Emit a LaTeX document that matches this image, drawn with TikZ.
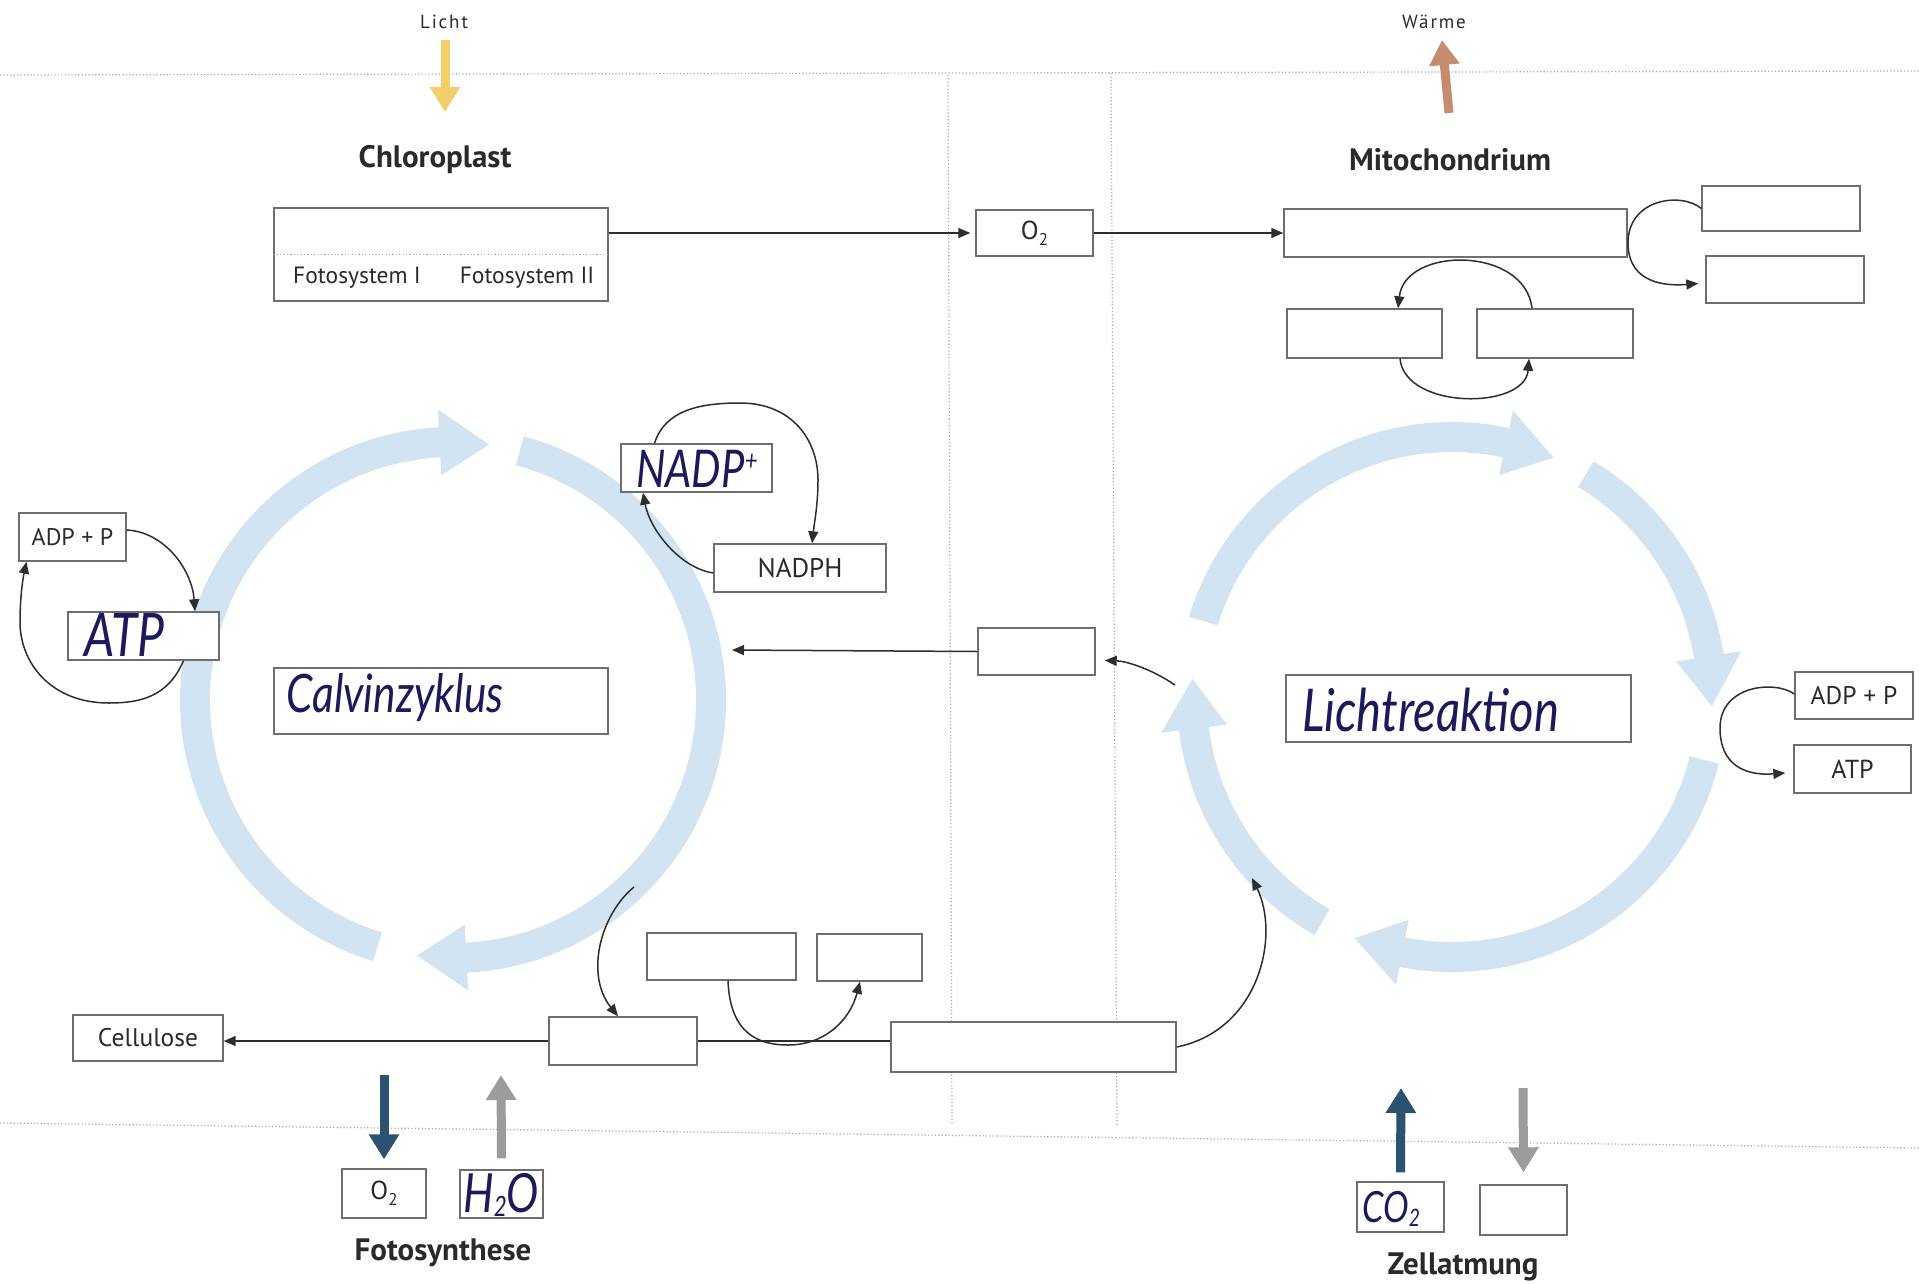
\documentclass[tikz,border=0pt]{standalone}
\usepackage{fontspec}
\setmainfont{PT Sans}
\newfontfamily\hand{Lato}[FakeStretch=0.8]
\usetikzlibrary{arrows.meta}
\definecolor{ringblue}{HTML}{D2E4F1}
\definecolor{boxc}{HTML}{6E6E6E}
\definecolor{connc}{HTML}{2E2E2E}
\definecolor{textc}{HTML}{2A2A2A}
\definecolor{handc}{HTML}{1C1A5C}
\definecolor{yellowc}{HTML}{F3CF6A}
\definecolor{brownc}{HTML}{C68B70}
\definecolor{darkc}{HTML}{2D5170}
\definecolor{grayc}{HTML}{9C9C9C}
\definecolor{dotc}{HTML}{A8A8A8}
\newcommand\ringseg[4]{%
 \fill[ringblue] ({#1}:{#3-15}) arc[start angle={#1}, end angle={#2+#4}, radius={#3-15}]
   -- ({#2+#4}:{#3-33}) -- ({#2}:{#3}) -- ({#2+#4}:{#3+33}) -- ({#2+#4}:{#3+15})
   arc[start angle={#2+#4}, end angle={#1}, radius={#3+15}] -- cycle;}
\begin{document}
\begin{tikzpicture}[x=1pt,y=-1pt,
  box/.style={draw=boxc, line width=1.4pt, fill=white, inner sep=0pt, font=\fontsize{26}{30}\selectfont, text=textc},
  conn/.style={draw=connc, line width=1.5pt, -{Triangle[length=12pt,width=10pt]}},
  plainln/.style={draw=connc, line width=1.5pt},
  fat/.style={line width=9pt, -{Triangle[length=25pt,width=29pt]}},
  ttl/.style={font=\bfseries\fontsize{31}{36}\selectfont, text=textc},
  lblsmall/.style={font=\fontsize{19}{22}\selectfont\addfontfeature{LetterSpace=10}, text=textc},
  lbltext/.style={font=\fontsize{23.5}{28}\selectfont, text=textc},
  hw/.style={font=\hand\itshape\fontsize{52}{58}\selectfont, text=handc, inner sep=0pt, anchor=base west},
  dotline/.style={draw=dotc, line width=1.2pt, dash pattern=on 1.2pt off 2.2pt}
]
\fill[white] (0,0) rectangle (1919,1283);
\useasboundingbox (0,0) rectangle (1919,1283);

% dotted frame lines
\draw[dotline] (0,75) -- (1919,71);
\draw[dotline] (0,1123) -- (1919,1148);
\draw[dotline] (948,75) -- (952,1125);
\draw[dotline] (1111,73) -- (1117,1127);

% cycles
\begin{scope}[shift={(453,700)}, yscale=-1]
 \ringseg{253}{82}{258}{11}
 \ringseg{75}{-98}{258}{11}
\end{scope}
\begin{scope}[shift={(1452,697)}, yscale=-1]
 \ringseg{240}{176}{260}{11}
 \ringseg{163}{67}{260}{11}
 \ringseg{59}{-2}{260}{11}
 \ringseg{-14}{-112}{260}{11}
\end{scope}
\coordinate (calvR) at (732,650);
\coordinate (calvBR) at (634,887);
\coordinate (lichtRing) at (1175,685);
\coordinate (lichtBL) at (1252,878);

% labels
\node[lblsmall] (licht) at (444,22) {Licht};
\node[lblsmall] (waerme) at (1434,22) {Wärme};
\node[ttl] (chlt) at (435,160) {Chloroplast};
\node[ttl] (mitot) at (1450,160) {Mitochondrium};
\node[ttl] (fots) at (443,1253) {Fotosynthese};
\node[ttl] (zell) at (1463,1267) {Zellatmung};

% boxes
\node[box, minimum width=334pt, minimum height=93pt] (chl) at (441,254.5) {};
\draw[dotline] (chl.west) -- (chl.east);
\node[lbltext] (fs1) at (357,278) {Fotosystem I};
\node[lbltext] (fs2) at (527,278) {Fotosystem II};
\node[box, minimum width=117pt, minimum height=46pt] (o2top) at (1034.5,233) {O\raisebox{-6pt}{\fontsize{17}{17}\selectfont 2}};
\node[box, minimum width=343pt, minimum height=48pt] (mito) at (1455.5,233) {};
\node[box, minimum width=158pt, minimum height=45pt] (mr1) at (1781,208.5) {};
\node[box, minimum width=158pt, minimum height=47pt] (mr2) at (1785,279.5) {};
\node[box, minimum width=155pt, minimum height=49pt] (ml) at (1364.5,333.5) {};
\node[box, minimum width=156pt, minimum height=49pt] (mrr) at (1555,333.5) {};
\node[box, minimum width=107pt, minimum height=48pt, font=\fontsize{24}{28}\selectfont] (adpL) at (72.5,537) {ADP + P};
\node[box, minimum width=151pt, minimum height=48pt] (atpL) at (143.5,636) {};
\node[box, minimum width=151pt, minimum height=48pt] (nadp) at (696.5,468) {};
\node[box, minimum width=172pt, minimum height=48pt, font=\fontsize{27}{31}\selectfont] (nadph) at (800,568) {NADPH};
\node[box, minimum width=334pt, minimum height=66pt] (calvin) at (441,701) {};
\node[box, minimum width=117pt, minimum height=47pt] (mid) at (1036.5,651.5) {};
\node[box, minimum width=345pt, minimum height=67pt] (lichtr) at (1458.5,708.5) {};
\node[box, minimum width=118pt, minimum height=47pt, font=\fontsize{25.5}{30}\selectfont] (adpR) at (1854,695.5) {ADP + P};
\node[box, minimum width=117pt, minimum height=48pt] (atpR) at (1852.5,769) {ATP};
\node[box, minimum width=150pt, minimum height=46pt, font=\fontsize{25.5}{30}\selectfont] (cell) at (148,1038) {Cellulose};
\node[box, minimum width=148pt, minimum height=48pt] (bA) at (623,1041) {};
\node[box, minimum width=285pt, minimum height=50pt] (bB) at (1033.5,1047) {};
\node[box, minimum width=149pt, minimum height=47pt] (bC) at (721.5,956.5) {};
\node[box, minimum width=105pt, minimum height=47pt] (bD) at (869.5,957.5) {};
\node[box, minimum width=84pt, minimum height=49pt] (o2b) at (384,1193.5) {O\raisebox{-6pt}{\fontsize{17}{17}\selectfont 2}};
\node[box, minimum width=83pt, minimum height=48pt] (h2o) at (501.5,1194) {};
\node[box, minimum width=87pt, minimum height=50pt] (co2) at (1400.5,1207) {};
\node[box, minimum width=87pt, minimum height=50pt] (emp) at (1523.5,1210) {};

% handwritten entries
\node[hw, font=\hand\itshape\fontsize{60}{66}\selectfont] (atpLt) at (84,656) {ATP};
\node[hw] (nadpt) at (636,487) {NADP\raisebox{17pt}{\fontsize{28}{28}\selectfont +}};
\node[hw, font=\hand\itshape\fontsize{53}{60}\selectfont] (calvt) at (286,712) {Calvinzyklus};
\node[hw, font=\hand\itshape\fontsize{59}{66}\selectfont] (lichtt) at (1302,731) {Lichtreaktion};
\node[hw, font=\hand\itshape\fontsize{54}{60}\selectfont] (h2ot) at (463,1212) {H\raisebox{-4pt}{\fontsize{28}{28}\selectfont 2}O};
\node[hw, font=\hand\itshape\fontsize{43}{50}\selectfont] (co2t) at (1362,1222) {CO\raisebox{-4pt}{\fontsize{24}{24}\selectfont 2}};

% connectors
\draw[conn] (chl.east |- o2top.west) -- ([xshift=-5]o2top.west);
\draw[conn] (o2top.east) -- (mito.west);
\draw[conn] (mr1.west) .. controls (1682,192) and (1628,198) .. (1628,243) .. controls (1628,277) and (1655,287) .. ([xshift=-7,yshift=-4]mr2.west);
\draw[conn] ([xshift=-23]mrr.north) .. controls (1525,246) and (1405,246) .. ([xshift=33.5]ml.north);
\draw[conn] ([xshift=35.5]ml.south) .. controls (1405,410) and (1525,410) .. ([xshift=-26]mrr.south);
\draw[conn] ([yshift=7]adpL.east) .. controls (165,532) and (192,570) .. ([xshift=51.5]atpL.north);
\draw[conn] ([xshift=40]atpL.south) .. controls (168,697) and (140,703) .. (109,703) .. controls (50,703) and (20,662) .. (20,622) .. controls (20,597) and (23,578) .. ([xshift=-46]adpL.south);
\draw[conn] ([xshift=-42]nadp.north) .. controls (665,410) and (700,403) .. (740,403) .. controls (792,403) and (818,440) .. (818,480) .. controls (818,505) and (814,525) .. ([xshift=12]nadph.north);
\draw[conn] ([yshift=-5]nadph.west) .. controls (680,568) and (650,530) .. ([xshift=-53.5]nadp.south);
\draw[conn] (mid.west) -- (calvR);
\draw[conn] (lichtRing) .. controls (1150,668) and (1125,661) .. ([xshift=9,yshift=-9]mid.east);
\draw[conn] (calvBR) .. controls (600,915) and (585,975) .. ([xshift=-5]bA.north);
\draw[conn] ([xshift=6.5]bC.south) .. controls (730,1035) and (760,1045) .. (788,1045) .. controls (825,1045) and (850,1020) .. ([xshift=-9.5]bD.south);
\draw[conn] (bA.west) -- (bA.west -| cell.east);
\draw[plainln] (bA.east) -- (bA.east -| bB.west);
\draw[conn] (bB.east) .. controls (1260,1030) and (1280,935) .. (lichtBL);
\draw[conn] ([yshift=1.5]adpR.west) .. controls (1775,680) and (1720,685) .. (1720,728) .. controls (1720,765) and (1745,776) .. ([xshift=-8,yshift=-4]atpR.west);

% fat arrows
\coordinate (lA) at (445,40); \coordinate (lB) at (445,112);
\draw[fat, yellowc] (lA) -- (lB);
\coordinate (wA) at (1449,113); \coordinate (wB) at (1442,40);
\draw[fat, brownc] (wA) -- (wB);
\coordinate (oA) at (384,1075);
\draw[fat, darkc] (oA) -- ([yshift=9]o2b.north);
\coordinate (hB) at (501,1075);
\draw[fat, grayc] ([yshift=11]h2o.north) -- (hB);
\coordinate (cB) at (1401,1088);
\draw[fat, darkc] ([yshift=9]co2.north) -- (cB);
\coordinate (gA) at (1523,1088);
\draw[fat, grayc] (gA) -- ([yshift=12]emp.north);
\end{tikzpicture}
\end{document}
